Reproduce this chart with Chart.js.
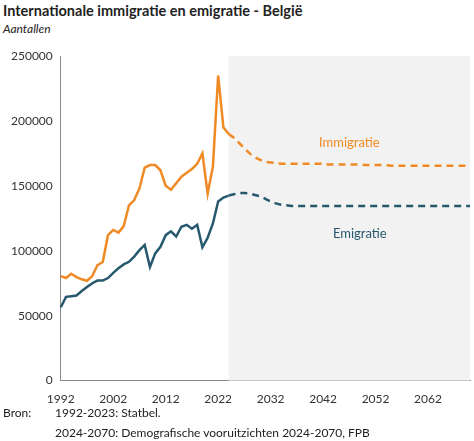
<!DOCTYPE html>
<html><head><meta charset="utf-8">
<script src="https://cdn.jsdelivr.net/npm/chart.js@4"></script>
<style>
body{margin:0;width:474px;height:441px;background:#fff;font-family:Lato,"Open Sans",sans-serif;color:#222;position:relative;overflow:hidden}
#title{position:absolute;left:3px;top:2px;font-size:14.5px;font-weight:bold}
#sub{position:absolute;left:3px;top:21px;font-size:12px;font-style:italic}
#wrap{position:absolute;left:0;top:44px;width:474px;height:365px}
.src{position:absolute;font-size:12px}
</style></head><body>
<div id="title">Internationale immigratie en emigratie - België</div>
<div id="sub">Aantallen</div>
<div id="wrap"><canvas id="c"></canvas></div>
<div class="src" style="left:3px;top:405px">Bron:</div>
<div class="src" style="left:55px;top:405px">1992-2023: Statbel.</div>
<div class="src" style="left:55px;top:425px">2024-2070: Demografische vooruitzichten 2024-2070, FPB</div>
<script>
// --- Data ---
const years = [];
for (let y = 1992; y <= 2070; y++) years.push(String(y));

const immigratie = [
  80500, 79000, 82300, 79700, 78000, 76900, 80500, 89000, 91300, 112000,
  116000, 114000, 119000, 135000, 139000, 148000, 164000, 166000, 166000, 162000,
  150000, 147000, 152000, 157000, 160000, 163000, 167000, 175000, 144000, 165000,
  235000, 195000, 190000, 187000, 183000, 179000, 175000, 172000, 170000, 168500,
  168000, 167500, 167000, 167000, 167000, 167000, 167000, 167000, 167000, 167000,
  167000, 166500, 166500, 166500, 166500, 166500, 166500, 166500, 166000, 166000,
  166000, 166000, 166000, 165500, 165500, 165500, 165500, 165500, 165500, 165500,
  165500, 165500, 165500, 165500, 165500, 165500, 165500, 165500, 165500
];
const emigratie = [
  56500, 64500, 65000, 65500, 69000, 72000, 75000, 77000, 77000, 79000,
  83000, 86500, 89500, 91500, 95500, 100500, 104500, 87500, 98000, 103000,
  112000, 115000, 111000, 118500, 120000, 117000, 120000, 102700, 110000, 121000,
  138000, 141000, 142500, 143500, 144500, 144500, 144000, 143000, 142000, 140000,
  138000, 136500, 135500, 135000, 134500, 134500, 134500, 134500, 134500, 134500,
  134500, 134500, 134500, 134500, 134500, 134500, 134500, 134500, 134500, 134500,
  134500, 134500, 134500, 134500, 134500, 134500, 134500, 134500, 134500, 134500,
  134500, 134500, 134500, 134500, 134500, 134500, 134500, 134500, 134500
];
const projStart = years.indexOf('2024');
const ORANGE = '#F08A24', BLUE = '#27596E';

const dashAfter = ctx => ctx.p0DataIndex >= projStart ? [7, 5] : undefined;

const shade = {
  id: 'shade',
  beforeDatasetsDraw(chart) {
    const { ctx, chartArea: a, scales: { x } } = chart;
    const x0 = x.getPixelForValue(projStart);
    ctx.save();
    ctx.fillStyle = '#F2F2F2';
    ctx.fillRect(x0, a.top, a.right - x0, a.bottom - a.top);
    ctx.restore();
  },
  afterDatasetsDraw(chart) {
    const { ctx, scales: { x, y } } = chart;
    ctx.save();
    ctx.font = '13px Lato, sans-serif';
    ctx.textAlign = 'center';
    ctx.fillStyle = ORANGE;
    ctx.fillText('Immigratie', x.getPixelForValue(years.indexOf('2047')), y.getPixelForValue(180000));
    ctx.fillStyle = BLUE;
    ctx.fillText('Emigratie', x.getPixelForValue(years.indexOf('2049')), y.getPixelForValue(110000));
    ctx.restore();
  }
};

new Chart(document.getElementById('c'), {
  type: 'line',
  data: {
    labels: years,
    datasets: [
      { data: immigratie, borderColor: ORANGE, borderWidth: 2.5, pointRadius: 0, tension: 0, segment: { borderDash: dashAfter } },
      { data: emigratie, borderColor: BLUE, borderWidth: 2.5, pointRadius: 0, tension: 0, segment: { borderDash: dashAfter } }
    ]
  },
  options: {
    responsive: true, maintainAspectRatio: false, animation: false,
    layout: { padding: { top: 12, right: 4, left: 8 } },
    plugins: { legend: { display: false }, tooltip: { enabled: false } },
    scales: {
      x: {
        grid: { display: false },
        border: { color: '#888' },
        ticks: {
          autoSkip: false, maxRotation: 0, color: '#333', font: { size: 12, family: 'Lato' },
          callback: (v, i) => (i % 10 === 0 && i < 75) ? years[i] : ''
        }
      },
      y: {
        min: 0, max: 250000,
        grid: { display: false, drawOnChartArea: false, drawTicks: true, tickLength: 5, color: '#888' },
        border: { color: '#888' },
        ticks: { stepSize: 50000, color: '#333', font: { size: 12, family: 'Lato' }, callback: v => String(v) }
      }
    }
  },
  plugins: [shade]
});
</script>
</body></html>
